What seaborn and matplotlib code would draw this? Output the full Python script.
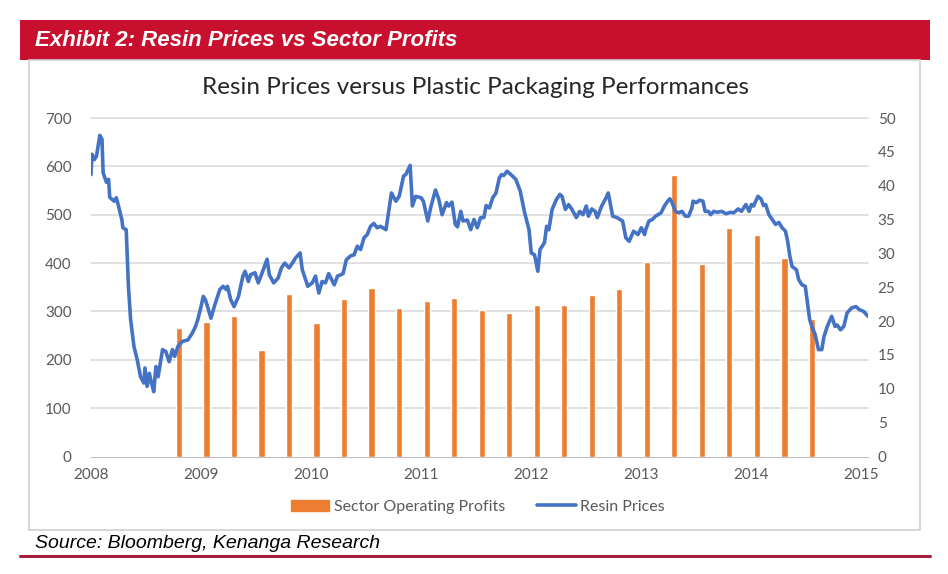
import numpy as np
import pandas as pd
import seaborn as sns
import matplotlib.pyplot as plt
from matplotlib.patches import Rectangle, Patch
from matplotlib.lines import Line2D
from matplotlib.transforms import blended_transform_factory

# resin price (left axis), decimal years
resin_years = [
    2008.00, 2008.01, 2008.03, 2008.05, 2008.08, 2008.10, 2008.11, 2008.14, 2008.16, 2008.17,
    2008.21, 2008.23, 2008.25, 2008.28, 2008.29, 2008.32, 2008.34, 2008.36, 2008.39, 2008.42,
    2008.45, 2008.48, 2008.49, 2008.51, 2008.53, 2008.55, 2008.57, 2008.59, 2008.61, 2008.65,
    2008.68, 2008.71, 2008.74, 2008.76, 2008.79, 2008.83, 2008.88, 2008.92, 2008.95, 2008.97,
    2009.00, 2009.02, 2009.04, 2009.09, 2009.12, 2009.17, 2009.20, 2009.23, 2009.24, 2009.27,
    2009.30, 2009.34, 2009.38, 2009.40, 2009.43, 2009.45, 2009.49, 2009.52, 2009.56, 2009.60,
    2009.62, 2009.66, 2009.70, 2009.73, 2009.76, 2009.80, 2009.83, 2009.86, 2009.90, 2009.92,
    2009.97, 2010.01, 2010.04, 2010.07, 2010.10, 2010.13, 2010.16, 2010.21, 2010.24, 2010.29,
    2010.32, 2010.36, 2010.39, 2010.42, 2010.45, 2010.48, 2010.51, 2010.54, 2010.57, 2010.60,
    2010.63, 2010.68, 2010.73, 2010.77, 2010.80, 2010.84, 2010.86, 2010.90, 2010.92, 2010.95,
    2011.00, 2011.02, 2011.06, 2011.09, 2011.13, 2011.16, 2011.19, 2011.23, 2011.25, 2011.28,
    2011.31, 2011.33, 2011.36, 2011.38, 2011.42, 2011.45, 2011.48, 2011.51, 2011.54, 2011.57,
    2011.59, 2011.62, 2011.65, 2011.68, 2011.71, 2011.73, 2011.75, 2011.78, 2011.83, 2011.86,
    2011.90, 2011.94, 2011.98, 2012.00, 2012.03, 2012.06, 2012.08, 2012.12, 2012.14, 2012.16,
    2012.19, 2012.23, 2012.26, 2012.28, 2012.31, 2012.34, 2012.37, 2012.41, 2012.44, 2012.47,
    2012.50, 2012.52, 2012.55, 2012.58, 2012.60, 2012.64, 2012.68, 2012.70, 2012.74, 2012.78,
    2012.83, 2012.86, 2012.89, 2012.93, 2012.97, 2013.00, 2013.03, 2013.04, 2013.07, 2013.10,
    2013.13, 2013.18, 2013.21, 2013.24, 2013.26, 2013.28, 2013.31, 2013.34, 2013.37, 2013.40,
    2013.43, 2013.46, 2013.47, 2013.50, 2013.53, 2013.56, 2013.58, 2013.61, 2013.63, 2013.66,
    2013.69, 2013.73, 2013.77, 2013.81, 2013.84, 2013.88, 2013.91, 2013.95, 2013.98, 2014.00,
    2014.02, 2014.06, 2014.09, 2014.11, 2014.13, 2014.16, 2014.19, 2014.22, 2014.25, 2014.28,
    2014.31, 2014.33, 2014.35, 2014.37, 2014.41, 2014.43, 2014.46, 2014.49, 2014.51, 2014.53,
    2014.55, 2014.58, 2014.61, 2014.64, 2014.66, 2014.69, 2014.73, 2014.76, 2014.78, 2014.81,
    2014.84, 2014.87, 2014.91, 2014.95, 2014.98, 2015.02, 2015.06,
]
resin_prices = [
    583, 625, 614, 621, 664, 656, 587, 567, 573, 536,
    528, 535, 518, 490, 473, 469, 352, 283, 228, 200,
    165, 152, 183, 145, 172, 152, 134, 186, 165, 221,
    217, 196, 221, 207, 228, 238, 241, 255, 269, 283,
    310, 331, 324, 286, 310, 345, 352, 345, 352, 324,
    310, 331, 373, 383, 362, 376, 380, 359, 383, 408,
    376, 359, 369, 390, 400, 390, 400, 411, 421, 386,
    352, 359, 373, 338, 362, 359, 378, 355, 373, 378,
    407, 415, 417, 435, 428, 452, 459, 476, 482, 473,
    476, 469, 545, 528, 538, 580, 583, 602, 518, 538,
    535, 528, 487, 518, 551, 532, 500, 525, 518, 526,
    480, 475, 507, 487, 489, 469, 490, 473, 494, 494,
    519, 514, 535, 545, 576, 583, 581, 590, 580, 573,
    549, 504, 469, 421, 417, 383, 428, 442, 476, 469,
    511, 532, 542, 538, 511, 521, 511, 494, 507, 500,
    518, 497, 512, 507, 494, 518, 535, 545, 497, 494,
    487, 452, 445, 466, 459, 473, 459, 469, 487, 490,
    497, 504, 518, 528, 533, 525, 507, 504, 507, 497,
    497, 514, 528, 525, 530, 528, 507, 507, 500, 507,
    505, 507, 502, 505, 504, 512, 507, 521, 507, 521,
    518, 538, 532, 519, 521, 500, 490, 480, 484, 473,
    466, 445, 414, 393, 386, 366, 355, 352, 317, 283,
    269, 252, 221, 221, 248, 269, 290, 269, 272, 262,
    269, 297, 307, 310, 304, 300, 290,
]

# sector operating profits (right axis), quarterly
profit_years = [
    2008.80, 2009.05, 2009.30, 2009.55, 2009.80, 2010.05, 2010.30, 2010.55,
    2010.80, 2011.05, 2011.30, 2011.55, 2011.80, 2012.05, 2012.30, 2012.55,
    2012.80, 2013.05, 2013.30, 2013.55, 2013.80, 2014.05, 2014.30, 2014.55,
]
profit_values = [
    19.0, 19.9, 20.8, 15.8, 24.0, 19.7, 23.3, 24.9,
    21.9, 22.9, 23.4, 21.7, 21.2, 22.4, 22.4, 23.9,
    24.7, 28.8, 41.6, 28.5, 33.7, 32.7, 29.3, 20.3,
]
year_ticks = [2008, 2009, 2010, 2011, 2012, 2013, 2014, 2015]
left_ticks = list(range(0, 701, 100))
right_ticks = list(range(0, 51, 5))

line_df = pd.DataFrame({"year": resin_years, "price": resin_prices})
bar_df = pd.DataFrame({"year": profit_years, "profit": profit_values})

sns.set_style("white")
plt.rcParams["font.family"] = ["Lato", "DejaVu Sans"]

BLUE = "#4472C4"
ORANGE = "#ED7D31"
GREY = "#595959"
NARROW = ["Liberation Sans Narrow", "Liberation Sans"]

fig = plt.figure(figsize=(9.48, 5.74), dpi=100)

ax = fig.add_axes([91 / 948, 1 - 456.5 / 574, 777 / 948, 338.5 / 574])
axb = ax.twinx()

sns.barplot(data=bar_df, x="year", y="profit", ax=axb, native_scale=True,
            color=ORANGE, saturation=1, width=0.23, errorbar=None, zorder=2)
sns.lineplot(data=line_df, x="year", y="price", ax=ax, color=BLUE, linewidth=2.6)

# line above the bars
ax.set_zorder(axb.get_zorder() + 1)
ax.patch.set_visible(False)
axb.patch.set_visible(False)

ax.set_xlim(2008, 2015.06)
ax.set_ylim(0, 700)
axb.set_ylim(0, 50)
ax.set_xticks(year_ticks)
ax.set_xticklabels([str(y) for y in year_ticks])
ax.set_yticks(left_ticks)
axb.set_yticks(right_ticks)
ax.grid(False)
axb.grid(False)

for a in (ax, axb):
    a.set_xlabel("")
    a.set_ylabel("")
    for s in a.spines.values():
        s.set_visible(False)
    a.tick_params(axis="both", labelsize=11, labelcolor=GREY, length=0)
ax.spines["bottom"].set_visible(True)
ax.spines["bottom"].set_color("#bfbfbf")
ax.tick_params(axis="x", length=5, color="#bfbfbf", direction="out", pad=3)
ax.tick_params(axis="y", pad=14)
axb.tick_params(axis="y", pad=7)

# gridlines on the left scale, as figure artists drawn before (behind) both axes
grid_tr = blended_transform_factory(ax.transAxes, ax.transData)
for v in left_ticks[1:]:
    fig.add_artist(Line2D([0, 1], [v, v], transform=grid_tr, color="#d9d9d9",
                          linewidth=1.1, zorder=-0.5))

# red exhibit banner, chart frame and source rule
fig.add_artist(Rectangle((20 / 948, 1 - 60 / 574), 910 / 948, 40 / 574,
                         transform=fig.transFigure, facecolor="#C8102E",
                         edgecolor="none", zorder=-2))
fig.add_artist(Rectangle((29 / 948, 1 - 530 / 574), 891 / 948, 470 / 574,
                         transform=fig.transFigure, facecolor="none",
                         edgecolor="#d0d0d0", linewidth=1.2, zorder=-1))
fig.add_artist(Line2D([20 / 948, 930 / 948], [1 - 556 / 574] * 2, color="#A51F3A", lw=2.2))

fig.text(35 / 948, 1 - 40 / 574, "Exhibit 2: Resin Prices vs Sector Profits",
         family=NARROW, weight="bold", style="italic",
         fontsize=16, color="white", va="center")
fig.text(35 / 948, 1 - 544 / 574, "Source: Bloomberg, Kenanga Research",
         family=NARROW, style="italic", fontsize=14, color="black", va="center")
fig.text(475 / 948, 1 - 87 / 574, "Resin Prices versus Plastic Packaging Performances",
         fontsize=17.5, color="#262626", ha="center", va="center")

handles = [Patch(color=ORANGE), Line2D([0], [0], color=BLUE, lw=2.6)]
fig.legend(handles, ["Sector Operating Profits", "Resin Prices"], loc="center",
           bbox_to_anchor=(478 / 948, 1 - 507 / 574), ncol=2, frameon=False,
           fontsize=11.5, labelcolor=GREY, handlelength=2.4, handletextpad=0.3,
           columnspacing=2.0)

fig.savefig("out.png", dpi=100)
